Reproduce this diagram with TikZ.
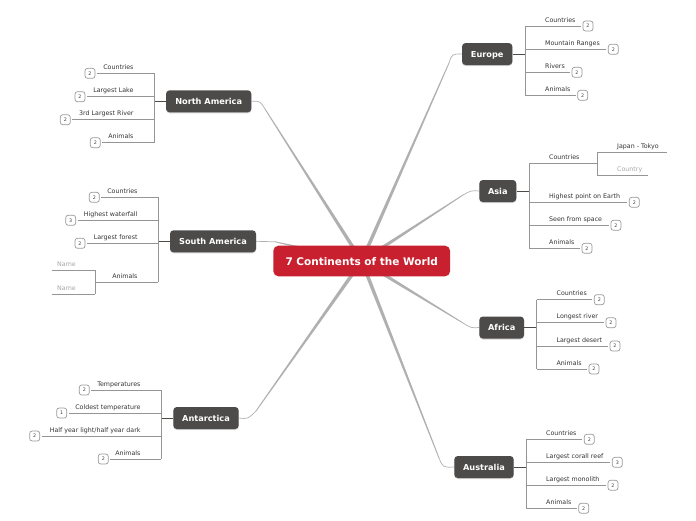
\documentclass[tikz,border=0pt]{standalone}
\usepackage{fontspec}
\setmainfont{DejaVu Sans}
\usetikzlibrary{calc, backgrounds, shadows}
\newcommand{\limb}[1]{\fill[limbgray] ($(main.center)!1.9pt!90:(#1)$) -- ($(#1)!.45pt!-90:(main.center)$) -- ($(#1)!.45pt!90:(main.center)$) -- ($(main.center)!1.9pt!-90:(#1)$) -- cycle;}
\definecolor{limbgray}{HTML}{B0B0B0}
\definecolor{topicgray}{HTML}{4D4B49}
\definecolor{mainred}{HTML}{C8202F}
\definecolor{twiggray}{HTML}{959595}

\begin{document}
\begin{tikzpicture}[x=1pt, y=-1pt,
	main/.style={fill=mainred, text=white, rounded corners=5pt, font=\bfseries\fontsize{10.5}{12}\selectfont, minimum width=176.7pt, minimum height=30.6pt, inner sep=0pt, text height=10pt, text depth=2pt},
	topic/.style={fill=topicgray, text=white, rounded corners=3.5pt, font=\bfseries\fontsize{8.2}{10}\selectfont, minimum height=22pt, inner sep=0pt, text height=7.5pt, text depth=1.5pt, drop shadow={shadow xshift=0pt, shadow yshift=-1pt, opacity=0.35, fill=gray}},
	badge/.style={draw=gray!80, fill=white, rounded corners=2.5pt, line width=0.7pt, text=black!75, font=\fontsize{4.8}{5}\selectfont, minimum size=10pt, inner sep=0pt, outer sep=2pt},
	twig/.style={draw=twiggray, line width=1pt},
	spine/.style={draw=twiggray, line width=1pt},
	stem/.style={draw=topicgray, line width=1pt},
	twine/.style={draw=limbgray, line width=0.7pt},
	rightlabel/.style={anchor=base west, pos=0, xshift=19.4pt, yshift=4pt, inner sep=0pt, text=black!80, font=\fontsize{6.3}{7}\selectfont},
	leftlabel/.style={anchor=base east, pos=0, xshift=-20pt, yshift=4pt, inner sep=0pt, text=black!80, font=\fontsize{6.3}{7}\selectfont},
	]
	\useasboundingbox (0, 0) rectangle (696, 520);
	
	% Central and topic nodes
	\node[main] (main) at (361.7, 261) {7 Continents of the World};
	\node[topic, minimum width=50.3pt] (europe) at (487.2, 54) {Europe};
	\node[topic, minimum width=37pt] (asia) at (497.8, 191) {Asia};
	\node[topic, minimum width=44.7pt] (africa) at (501.7, 327.5) {Africa};
	\node[topic, minimum width=59.4pt] (australia) at (484, 467) {Australia};
	\node[topic, minimum width=85.3pt] (namerica) at (208.7, 101.3) {North America};
	\node[topic, minimum width=86pt] (samerica) at (213, 241.3) {South America};
	\node[topic, minimum width=65.4pt] (antarctica) at (206, 418) {Antarctica};
	
	% Limbs from the centre, tapering towards the topics
	\coordinate (euBend) at (449, 63);
	\coordinate (asBend) at (463, 195);
	\coordinate (afBend) at (463, 323);
	\coordinate (auBend) at (439, 458);
	\coordinate (naBend) at (265, 109);
	\coordinate (saBend) at (275, 241.8);
	\coordinate (anBend) at (256, 411);
	\begin{scope}[on background layer]
		\limb{euBend}
		\limb{asBend}
		\limb{afBend}
		\limb{auBend}
		\limb{naBend}
		\limb{saBend}
		\limb{anBend}
		\draw[twine] (euBend) .. controls (452, 54) .. (europe.west);
		\draw[twine] (asBend) .. controls (471, 190.5) .. (asia.west);
		\draw[twine] (afBend) .. controls (471, 328) .. (africa.west);
		\draw[twine] (auBend) .. controls (443, 467.5) .. (australia.west);
		\draw[twine] (naBend) .. controls (260, 101) .. (namerica.east);
		\draw[twine] (saBend) .. controls (266, 241) .. (samerica.east);
		\draw[twine] (anBend) .. controls (248, 419) .. (antarctica.east);
	\end{scope}
	
	% Europe
	\coordinate (euJoint) at (525.3, 54);
	\node[badge] (eu1) at (588, 26) {2};
	\node[badge] (eu2) at (613.3, 49.3) {2};
	\node[badge] (eu3) at (577, 72.3) {2};
	\node[badge] (eu4) at (582.7, 95.3) {2};
	\draw[stem] (europe) -- (euJoint);
	\draw[spine] (euJoint |- eu1) -- (euJoint |- eu4);
	\draw[twig] (euJoint |- eu1) -- (eu1) node[rightlabel] (euText1) {Countries};
	\draw[twig] (euJoint |- eu2) -- (eu2) node[rightlabel] (euText2) {Mountain Ranges};
	\draw[twig] (euJoint |- eu3) -- (eu3) node[rightlabel] (euText3) {Rivers};
	\draw[twig] (euJoint |- eu4) -- (eu4) node[rightlabel] (euText4) {Animals};
	
	% Asia
	\coordinate (asJoint) at (529.3, 191);
	\coordinate (asLeaf1) at (597.3, 163.3);
	\node[badge] (as2) at (634.3, 202.3) {2};
	\node[badge] (as3) at (616, 225.3) {2};
	\node[badge] (as4) at (587, 248.3) {2};
	\draw[stem] (asia) -- (asJoint);
	\draw[spine] (asJoint |- asLeaf1) -- (asJoint |- as4);
	\draw[twig] (asJoint |- asLeaf1) -- (asLeaf1) node[rightlabel] (asText1) {Countries};
	\draw[twig] (asJoint |- as2) -- (as2) node[rightlabel] (asText2) {Highest point on Earth};
	\draw[twig] (asJoint |- as3) -- (as3) node[rightlabel] (asText3) {Seen from space};
	\draw[twig] (asJoint |- as4) -- (as4) node[rightlabel] (asText4) {Animals};
	\coordinate (asTokyo) at (667, 152.3);
	\coordinate (asCountry) at (647.5, 175);
	\draw[spine] (asLeaf1 |- asTokyo) -- (asLeaf1 |- asCountry);
	\draw[twig] (asLeaf1 |- asTokyo) -- (asTokyo) node[rightlabel] (asTextTokyo) {Japan - Tokyo};
	\draw[twig] (asLeaf1 |- asCountry) -- (asCountry) node[rightlabel, text=gray!70] (asTextCountry) {Country};
	
	% Africa
	\coordinate (afJoint) at (536.7, 327.5);
	\node[badge] (af1) at (599.3, 299.7) {2};
	\node[badge] (af2) at (611, 322.7) {2};
	\node[badge] (af3) at (615, 346) {2};
	\node[badge] (af4) at (594, 369) {2};
	\draw[stem] (africa) -- (afJoint);
	\draw[spine] (afJoint |- af1) -- (afJoint |- af4);
	\draw[twig] (afJoint |- af1) -- (af1) node[rightlabel] (afText1) {Countries};
	\draw[twig] (afJoint |- af2) -- (af2) node[rightlabel] (afText2) {Longest river};
	\draw[twig] (afJoint |- af3) -- (af3) node[rightlabel] (afText3) {Largest desert};
	\draw[twig] (afJoint |- af4) -- (af4) node[rightlabel] (afText4) {Animals};
	
	% Australia
	\coordinate (auJoint) at (526.3, 467);
	\node[badge] (au1) at (589.3, 439.3) {2};
	\node[badge] (au2) at (617.3, 462.3) {3};
	\node[badge] (au3) at (613, 485.3) {2};
	\node[badge] (au4) at (583.7, 508.3) {2};
	\draw[stem] (australia) -- (auJoint);
	\draw[spine] (auJoint |- au1) -- (auJoint |- au4);
	\draw[twig] (auJoint |- au1) -- (au1) node[rightlabel] (auText1) {Countries};
	\draw[twig] (auJoint |- au2) -- (au2) node[rightlabel] (auText2) {Largest corall reef};
	\draw[twig] (auJoint |- au3) -- (au3) node[rightlabel] (auText3) {Largest monolith};
	\draw[twig] (auJoint |- au4) -- (au4) node[rightlabel] (auText4) {Animals};
	
	% North America
	\coordinate (naJoint) at (154, 101.3);
	\node[badge] (na1) at (90, 73.3) {2};
	\node[badge] (na2) at (80, 96.7) {2};
	\node[badge] (na3) at (65.3, 119.7) {2};
	\node[badge] (na4) at (95.3, 142.7) {2};
	\draw[stem] (namerica) -- (naJoint);
	\draw[spine] (naJoint |- na1) -- (naJoint |- na4);
	\draw[twig] (naJoint |- na1) -- (na1) node[leftlabel] (naText1) {Countries};
	\draw[twig] (naJoint |- na2) -- (na2) node[leftlabel] (naText2) {Largest Lake};
	\draw[twig] (naJoint |- na3) -- (na3) node[leftlabel] (naText3) {3rd Largest River};
	\draw[twig] (naJoint |- na4) -- (na4) node[leftlabel] (naText4) {Animals};
	
	% South America
	\coordinate (saJoint) at (158, 241.3);
	\coordinate (saLeaf4) at (95.3, 282.3);
	\node[badge] (sa1) at (94.3, 197.3) {2};
	\node[badge] (sa2) at (70.7, 220.3) {3};
	\node[badge] (sa3) at (80, 243.3) {2};
	\draw[stem] (samerica) -- (saJoint);
	\draw[spine] (saJoint |- sa1) -- (saJoint |- saLeaf4);
	\draw[twig] (saJoint |- sa1) -- (sa1) node[leftlabel] (saText1) {Countries};
	\draw[twig] (saJoint |- sa2) -- (sa2) node[leftlabel] (saText2) {Highest waterfall};
	\draw[twig] (saJoint |- sa3) -- (sa3) node[leftlabel] (saText3) {Largest forest};
	\draw[twig] (saJoint |- saLeaf4) -- (saLeaf4) node[leftlabel] (saText4) {Animals};
	\coordinate (saName1) at (52, 270.3);
	\coordinate (saName2) at (52, 294);
	\draw[spine] (saLeaf4 |- saName1) -- (saLeaf4 |- saName2);
	\draw[twig] (saName1) -- (saLeaf4 |- saName1) node[rightlabel, xshift=-14.7pt, text=gray!70] (saTextName1) {Name};
	\draw[twig] (saName2) -- (saLeaf4 |- saName2) node[rightlabel, xshift=-14.7pt, text=gray!70] (saTextName2) {Name};
	
	% Antarctica
	\coordinate (anJoint) at (161, 418);
	\node[badge] (an1) at (84.3, 390) {2};
	\node[badge] (an2) at (61.7, 413) {1};
	\node[badge] (an3) at (34.7, 436) {2};
	\node[badge] (an4) at (103.3, 459) {2};
	\draw[stem] (antarctica) -- (anJoint);
	\draw[spine] (anJoint |- an1) -- (anJoint |- an4);
	\draw[twig] (anJoint |- an1) -- (an1) node[leftlabel] (anText1) {Temperatures};
	\draw[twig] (anJoint |- an2) -- (an2) node[leftlabel] (anText2) {Coldest temperature};
	\draw[twig] (anJoint |- an3) -- (an3) node[leftlabel] (anText3) {Half year light/half year dark};
	\draw[twig] (anJoint |- an4) -- (an4) node[leftlabel] (anText4) {Animals};
\end{tikzpicture}
\end{document}
